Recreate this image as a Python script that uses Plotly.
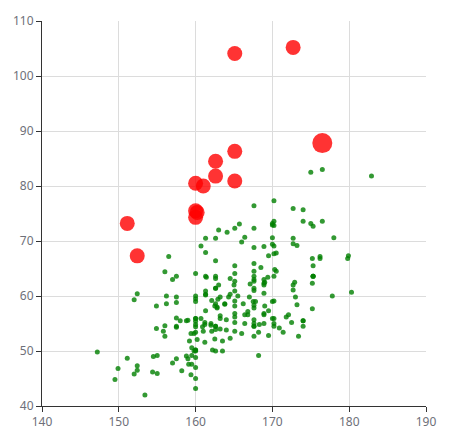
import plotly.graph_objects as go

# Normal points (height cm, weight kg)
normal_height = [
    161.2, 167.5, 159.5, 157.0, 155.8, 170.0, 159.1, 166.0, 176.2,
    172.5, 170.9, 172.9, 153.4, 160.0, 147.2, 168.2, 175.0, 157.0, 167.6,
    159.5, 175.0, 166.8, 170.2, 174.0, 173.0, 179.9, 170.5, 160.0,
    154.4, 162.0, 176.5, 160.0, 152.0, 162.1, 170.0, 160.2, 161.3, 166.4,
    168.9, 163.8, 167.6, 160.0, 161.3, 167.6, 165.1, 160.0, 170.0, 157.5,
    167.6, 160.7, 163.2, 152.4, 157.5, 168.3, 180.3, 165.5, 165.0, 164.5,
    156.0, 163.0, 165.7, 162.0, 166.0, 174.0, 172.7, 167.6,
    151.1, 164.5, 163.5, 152.0, 169.0, 164.0, 161.2, 155.0, 170.0, 176.2,
    170.0, 162.5, 170.3, 164.1, 169.5, 163.2, 154.5, 159.8, 173.2, 170.0,
    161.4, 169.0, 166.2, 159.4, 162.5, 159.0, 162.8, 159.0, 179.8, 162.9,
    161.0, 168.2, 168.9, 173.2, 171.8, 178.0, 164.3, 163.0, 168.5,
    166.8, 163.5, 169.4, 167.8, 159.5, 167.6, 161.2, 160.0, 163.2,
    162.2, 161.3, 149.5, 157.5, 163.2, 172.7, 155.0, 156.5, 164.0, 160.9,
    162.8, 167.0, 160.0, 160.0, 168.9, 158.2, 156.0, 160.0, 167.1, 158.0,
    167.6, 156.0, 162.1, 173.4, 159.8, 170.5, 159.2, 157.5, 161.3, 162.6,
    160.0, 168.9, 165.1, 162.6, 165.1, 166.4, 160.0, 152.4, 170.2,
    170.2, 158.8, 172.7, 167.6, 162.6, 167.6, 156.2, 175.2, 172.1, 162.6,
    160.0, 165.1, 182.9, 166.4, 165.1, 177.8, 165.1, 175.3, 154.9, 158.8,
    172.7, 168.9, 161.3, 167.6, 165.1, 175.3, 157.5, 163.8, 167.6, 165.1,
    165.1, 168.9, 162.6, 164.5, 176.5, 168.9, 175.3, 159.4, 160.0, 170.2,
    162.6, 167.6, 162.6, 160.7, 160.0, 157.5, 162.6, 152.4, 170.2,
    172.7, 165.1, 170.2, 170.2, 170.2, 161.3, 167.6, 167.6, 162.6,
    168.9, 170.2, 175.2, 175.2, 160.0, 174.0, 170.2,
    167.6, 167.6, 167.6, 154.9, 175.3, 171.4, 157.5, 165.1, 160.0,
    174.0, 162.6, 174.0, 162.6, 161.3, 156.2, 149.9, 169.5, 160.0, 175.3,
    169.5,
]
normal_weight = [
    51.6, 59.0, 49.2, 63.0, 53.6, 59.0, 47.6, 69.8, 66.8,
    55.2, 54.2, 62.5, 42.0, 50.0, 49.8, 49.2, 73.2, 47.8, 68.8,
    50.6, 82.5, 57.2, 72.8, 54.5, 59.8, 67.3, 67.8, 47.0,
    46.2, 55.0, 83.0, 54.4, 45.8, 53.6, 73.2, 52.1, 67.9, 56.6,
    62.3, 58.5, 54.5, 50.2, 60.3, 58.3, 56.2, 50.2, 72.9, 59.8,
    61.0, 69.1, 55.9, 46.5, 54.3, 54.8, 60.7, 60.0, 62.0, 60.3,
    52.7, 62.0, 73.1, 54.7, 53.2, 75.7, 61.1, 55.7,
    48.7, 52.3, 50.0, 59.3, 62.5, 55.7, 54.8, 45.9, 70.6, 67.2,
    69.4, 58.2, 64.8, 71.6, 52.8, 59.8, 49.0, 50.0, 69.2, 55.9,
    63.4, 58.2, 58.6, 45.7, 52.2, 48.6, 57.8, 55.6, 66.8, 59.4,
    53.6, 53.4, 69.0, 58.4, 56.2, 70.6, 59.8, 72.0, 65.2,
    56.6, 51.8, 63.4, 59.0, 47.6, 63.0, 55.2, 45.0, 54.0,
    50.2, 60.2, 44.8, 58.8, 56.4, 62.0, 49.2, 67.2, 53.8, 54.4,
    58.0, 59.8, 54.8, 43.2, 60.5, 46.4, 64.4, 48.8, 62.2, 55.5,
    57.8, 54.6, 59.2, 52.7, 53.2, 64.5, 51.8, 56.0, 63.6, 63.2,
    59.5, 56.8, 64.1, 50.0, 72.3, 55.0, 55.9, 60.4, 69.1,
    55.9, 55.5, 69.5, 76.4, 61.4, 65.9, 58.6, 66.8, 56.6, 58.6,
    55.9, 59.1, 81.8, 70.7, 56.8, 60.0, 58.2, 72.7, 54.1, 49.1,
    75.9, 55.0, 57.3, 55.0, 65.5, 65.5, 48.6, 58.6, 63.6, 55.2,
    62.7, 56.6, 53.9, 63.2, 73.6, 62.0, 63.6, 53.2, 53.4, 55.0,
    70.5, 54.5, 54.5, 55.9, 59.0, 63.6, 54.5, 47.3, 67.7,
    70.5, 60.9, 63.6, 54.5, 59.1, 70.5, 52.7, 62.7, 66.4,
    63.0, 73.6, 62.3, 57.7, 55.4, 55.5, 77.3,
    64.5, 72.3, 61.4, 58.2, 63.6, 53.4, 54.5, 53.6, 60.0,
    73.6, 61.4, 55.5, 63.6, 60.9, 60.0, 46.8, 57.3, 64.1, 63.6,
    67.3,
]

# Highlighted points (high weight-for-height)
high_height = [160.2, 176.5, 160.0, 161.0, 151.1, 172.7, 162.6, 165.1,
               165.1, 152.4, 165.1, 160.0, 162.6, 160.0]
high_weight = [75.2, 87.8, 74.3, 80.0, 73.2, 105.2, 84.5, 80.9,
               86.3, 67.3, 104.1, 80.5, 81.8, 75.5]

n_sizes = [20 if (h, w) == (176.5, 87.8) else 15 for h, w in zip(high_height, high_weight)]

fig = go.Figure()
fig.add_trace(go.Scatter(
    x=normal_height, y=normal_weight, mode="markers",
    marker=dict(size=5, color="rgb(0,128,0)", opacity=0.8, line=dict(width=0)),
    hoverinfo="x+y", showlegend=False,
))
fig.add_trace(go.Scatter(
    x=high_height, y=high_weight, mode="markers",
    marker=dict(size=n_sizes, color="rgb(255,0,0)", opacity=0.8, line=dict(width=0)),
    hoverinfo="x+y", showlegend=False,
))

axis_font = dict(family="Noto Sans, DejaVu Sans, sans-serif", size=12, color="#6E7079")
fig.update_layout(
    width=466, height=429,
    margin=dict(l=42, r=40, t=21, b=23),
    paper_bgcolor="white", plot_bgcolor="white",
    xaxis=dict(range=[140, 190], dtick=10, tick0=140, showgrid=True, gridcolor="#dcdcdc",
               zeroline=False, showline=True, linecolor="#333", linewidth=1,
               ticks="outside", ticklen=5, tickcolor="#333", tickfont=axis_font,
               automargin=False),
    yaxis=dict(range=[40, 110], dtick=10, tick0=40, showgrid=True, gridcolor="#dcdcdc",
               zeroline=False, showline=True, linecolor="#333", linewidth=1,
               ticks="outside", ticklen=5, tickcolor="#333", tickfont=axis_font,
               automargin=False),
)
fig.write_html("out.html", config={"displayModeBar": False},
               post_script="document.body.style.margin='0';document.body.style.overflow='hidden';")
